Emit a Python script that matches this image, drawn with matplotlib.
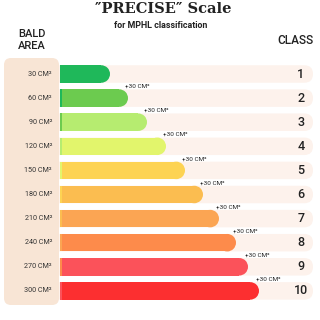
import numpy as np
import matplotlib.pyplot as plt
from matplotlib.patches import FancyBboxPatch, Circle

# データ
areas = [30, 60, 90, 120, 150, 180, 210, 240, 270, 300]      # cm²
classes = [1, 2, 3, 4, 5, 6, 7, 8, 9, 10]
bar_len = [50, 68, 87, 106, 125, 143, 159, 176, 188, 199]    # 見た目の長さ
step_label = "+30 CM²"
colors = ["#1fb85a", "#6ccb4f", "#b6ec70", "#e2f56c", "#fdd353",
          "#fbbd50", "#fba553", "#fd8b4b", "#fb525a", "#fc2f30"]

# レイアウト
x0 = 60          # バーの開始位置
track_end = 313
y_first, pitch = 74, 24.1
bh = 17.5

fig = plt.figure(figsize=(3.2, 3.2), dpi=100)
ax = fig.add_axes([0, 0, 1, 1])
ax.set_xlim(0, 320)
ax.set_ylim(320, 0)
ax.axis("off")

rows = y_first + pitch * np.arange(len(areas))

# 左の縦パネル
ax.add_patch(FancyBboxPatch((4, 58), 55, 247,
                            boxstyle="round,pad=0,rounding_size=7",
                            fc="#f8e5d5", ec="none", zorder=2))

for i, (y, L, c) in enumerate(zip(rows, bar_len, colors)):
    # 背景トラック
    ax.add_patch(FancyBboxPatch((45, y - bh / 2), track_end - 45, bh,
                                boxstyle="round,pad=0,rounding_size=8.7",
                                fc="#fdf2ec", ec="none", zorder=1))
    # バー本体（右端は丸）
    ax.barh(y, L - bh / 2, left=x0, height=bh, color=c, zorder=3)
    ax.add_patch(Circle((x0 + L - bh / 2, y), bh / 2, fc=c, ec="none", zorder=3))
    if i > 0:
        ax.barh(y, 2, left=x0, height=bh, color=colors[i - 1], zorder=4)
    # ラベル
    ax.text(52, y, f"{areas[i]} CM²", ha="right", va="center",
            fontsize=5.2, color="#333333", family="Roboto", zorder=5)
    ax.text(301, y, str(classes[i]), ha="center", va="center",
            fontsize=9, fontweight="medium", color="#222222", family="Roboto")
    if i < len(areas) - 1:
        ax.text(x0 + bar_len[i + 1] + 9, y + pitch / 2 + 0.5, step_label,
                ha="center", va="center", fontsize=4.6, color="#222222",
                family="Roboto", zorder=5)

# タイトル類
ax.text(163, 9, "\u2033PRECISE\u2033 Scale", ha="center", va="center",
        fontsize=10.5, fontweight="bold", family="DejaVu Serif", color="#222222")
ax.text(161, 25, "for MPHL classification", ha="center", va="center",
        fontsize=6.4, fontweight="bold", family="Roboto", color="#222222")
ax.text(18, 40, "BALD\nAREA", ha="left", va="center", fontsize=8,
        fontweight="medium", family="Roboto", color="#222222", linespacing=1.15)
ax.text(295, 41, "CLASS", ha="center", va="center", fontsize=8.5,
        fontweight="medium", family="Roboto", color="#222222")

plt.savefig("out.png", dpi=100)
plt.close()
